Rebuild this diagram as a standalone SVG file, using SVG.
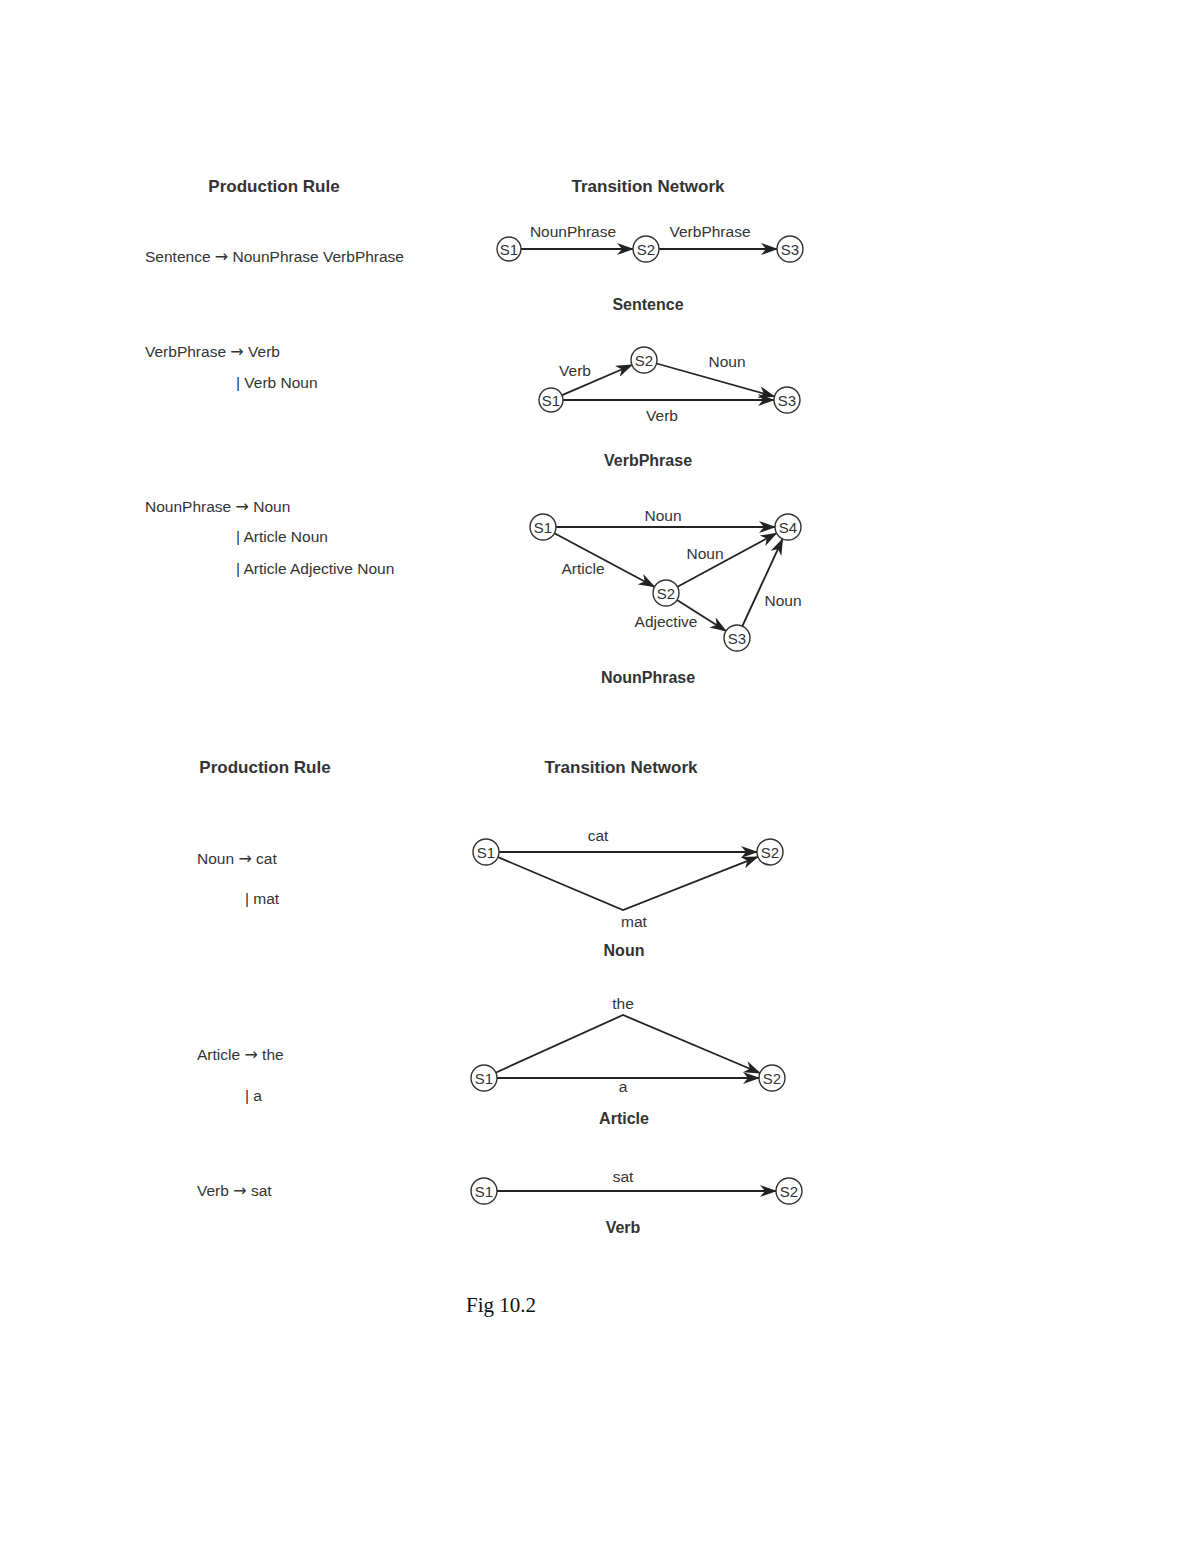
<svg xmlns="http://www.w3.org/2000/svg" width="1200" height="1553" viewBox="0 0 1200 1553">
<defs>
<marker id="arr" markerUnits="userSpaceOnUse" markerWidth="17" markerHeight="12" viewBox="0 0 17 12" refX="16" refY="6" orient="auto">
<path d="M0,0 L17,6 L0,12 L5,6 z" fill="#222"/>
</marker>
<style>
.t{font-family:"Liberation Sans",Arial,sans-serif;font-size:15.5px;fill:#333}
.a{font-family:"DejaVu Sans",sans-serif;font-size:16px}
.h{font-family:"Liberation Sans",Arial,sans-serif;font-size:17px;font-weight:bold;fill:#333}
.c{font-family:"Liberation Sans",Arial,sans-serif;font-size:16px;font-weight:bold;fill:#333;text-anchor:middle}
.m{text-anchor:middle}
.st{font-family:"Liberation Sans",Arial,sans-serif;font-size:15px;fill:#333;text-anchor:middle}
.node circle{fill:#fff;stroke:#333;stroke-width:1.4}
.e{fill:none;stroke:#222;stroke-width:1.8;marker-end:url(#arr)}
</style>
</defs>
<rect width="1200" height="1553" fill="#fff"/>

<!-- headings -->
<text class="h m" x="274" y="192">Production Rule</text>
<text class="h m" x="648" y="192">Transition Network</text>
<text class="h m" x="265" y="773">Production Rule</text>
<text class="h m" x="621" y="773">Transition Network</text>

<!-- production rules -->
<g id="rules">
<text class="t" x="145" y="262">Sentence <tspan class="a">→</tspan> NounPhrase VerbPhrase</text>
<text class="t" x="145" y="357">VerbPhrase <tspan class="a">→</tspan> Verb</text>
<text class="t" x="236" y="388">| Verb Noun</text>
<text class="t" x="145" y="512">NounPhrase <tspan class="a">→</tspan> Noun</text>
<text class="t" x="236" y="542">| Article Noun</text>
<text class="t" x="236" y="574">| Article Adjective Noun</text>
<text class="t" x="197" y="864">Noun <tspan class="a">→</tspan> cat</text>
<text class="t" x="245" y="904">| mat</text>
<text class="t" x="197" y="1060">Article <tspan class="a">→</tspan> the</text>
<text class="t" x="245" y="1101">| a</text>
<text class="t" x="197" y="1196">Verb <tspan class="a">→</tspan> sat</text>
</g>

<!-- connectors -->
<g id="connectors">
<line class="e" x1="521" y1="249" x2="633" y2="249"/>
<line class="e" x1="659" y1="249" x2="777" y2="249"/>

<line class="e" x1="561" y1="395.7" x2="632" y2="365"/>
<line class="e" x1="656.6" y1="363.5" x2="774.5" y2="396.5"/>
<line class="e" x1="563" y1="400" x2="774" y2="400"/>

<line class="e" x1="556" y1="527" x2="775" y2="527"/>
<line class="e" x1="553.5" y1="532.7" x2="654.5" y2="586.8"/>
<line class="e" x1="677.5" y1="586.8" x2="776.5" y2="533.2"/>
<line class="e" x1="677" y1="600" x2="726" y2="631"/>
<line class="e" x1="742.4" y1="626" x2="782.6" y2="539"/>

<line class="e" x1="499" y1="852" x2="757" y2="852"/>
<polyline class="e" points="497,856.7 623,910 757.8,856.8"/>

<polyline class="e" points="495,1073 623,1015 760,1073"/>
<line class="e" x1="497" y1="1078" x2="759" y2="1078"/>

<line class="e" x1="497" y1="1191" x2="776" y2="1191"/>
</g>

<!-- edge labels -->
<g id="labels">
<text class="t m" x="573" y="237">NounPhrase</text>
<text class="t m" x="710" y="237">VerbPhrase</text>
<text class="t m" x="575" y="376">Verb</text>
<text class="t m" x="727" y="367">Noun</text>
<text class="t m" x="662" y="421">Verb</text>
<text class="t m" x="663" y="521">Noun</text>
<text class="t m" x="705" y="559">Noun</text>
<text class="t m" x="583" y="574">Article</text>
<text class="t m" x="666" y="627">Adjective</text>
<text class="t m" x="783" y="606">Noun</text>
<text class="t m" x="598" y="841">cat</text>
<text class="t m" x="634" y="927">mat</text>
<text class="t m" x="623" y="1009">the</text>
<text class="t m" x="623" y="1092">a</text>
<text class="t m" x="623" y="1182">sat</text>
</g>

<!-- captions -->
<text class="c" x="648" y="310">Sentence</text>
<text class="c" x="648" y="466">VerbPhrase</text>
<text class="c" x="648" y="683">NounPhrase</text>
<text class="c" x="624" y="956">Noun</text>
<text class="c" x="624" y="1124">Article</text>
<text class="c" x="623" y="1233">Verb</text>

<!-- nodes -->
<g id="sent-s1" class="node"><circle cx="509" cy="249" r="12"/><text class="st" x="509" y="254.5">S1</text></g>
<g id="sent-s2" class="node"><circle cx="646" cy="249" r="13"/><text class="st" x="646" y="254.5">S2</text></g>
<g id="sent-s3" class="node"><circle cx="790" cy="249" r="13"/><text class="st" x="790" y="254.5">S3</text></g>

<g id="vp-s1" class="node"><circle cx="551" cy="400" r="12"/><text class="st" x="551" y="405.5">S1</text></g>
<g id="vp-s2" class="node"><circle cx="644" cy="360" r="13"/><text class="st" x="644" y="365.5">S2</text></g>
<g id="vp-s3" class="node"><circle cx="787" cy="400" r="13"/><text class="st" x="787" y="405.5">S3</text></g>

<g id="np-s1" class="node"><circle cx="543" cy="527" r="13"/><text class="st" x="543" y="532.5">S1</text></g>
<g id="np-s2" class="node"><circle cx="666" cy="593" r="13"/><text class="st" x="666" y="598.5">S2</text></g>
<g id="np-s3" class="node"><circle cx="737" cy="638" r="13"/><text class="st" x="737" y="643.5">S3</text></g>
<g id="np-s4" class="node"><circle cx="788" cy="527" r="13"/><text class="st" x="788" y="532.5">S4</text></g>

<g id="noun-s1" class="node"><circle cx="486" cy="852" r="13"/><text class="st" x="486" y="857.5">S1</text></g>
<g id="noun-s2" class="node"><circle cx="770" cy="852" r="13"/><text class="st" x="770" y="857.5">S2</text></g>

<g id="art-s1" class="node"><circle cx="484" cy="1078" r="13"/><text class="st" x="484" y="1083.5">S1</text></g>
<g id="art-s2" class="node"><circle cx="772" cy="1078" r="13"/><text class="st" x="772" y="1083.5">S2</text></g>

<g id="verb-s1" class="node"><circle cx="484" cy="1191" r="13"/><text class="st" x="484" y="1196.5">S1</text></g>
<g id="verb-s2" class="node"><circle cx="789" cy="1191" r="13"/><text class="st" x="789" y="1196.5">S2</text></g>

<text x="501" y="1312" font-family="'Liberation Serif','Times New Roman',serif" font-size="21" fill="#111" text-anchor="middle">Fig 10.2</text>
</svg>
